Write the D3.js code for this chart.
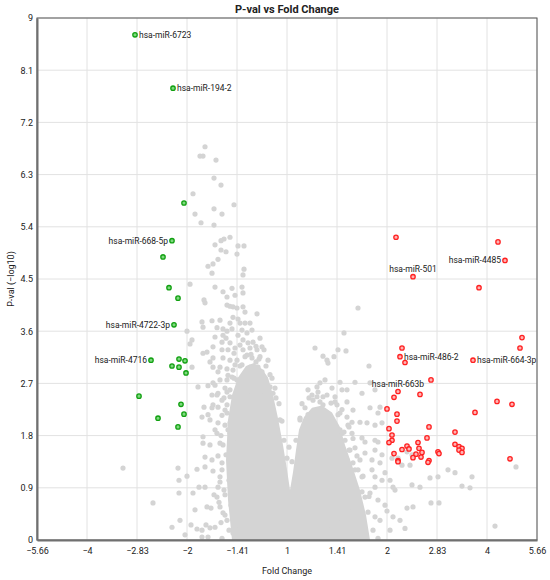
<!DOCTYPE html>
<html>
<head>
<meta charset="utf-8">
<script src="https://cdn.jsdelivr.net/npm/d3@7"></script>
<style>
  body { margin: 0; background: #fff; }
  svg text { font-family: "Liberation Sans Narrow", "Roboto", "Open Sans", sans-serif; fill: #222; }
</style>
</head>
<body>
<div id="chart"></div>
<script>
// x values are log2 fold change, y values are -log10 p
var xTickValues = [-2.5, -2, -1.5, -1, -0.5, 0, 0.5, 1, 1.5, 2, 2.5];
var xTickLabels = ["\u22125.66", "\u22124", "\u22122.83", "\u22122", "\u22121.41", "1", "1.41", "2", "2.83", "4", "5.66"];
var yTickValues = [0, 0.9, 1.8, 2.7, 3.6, 4.5, 5.4, 6.3, 7.2, 8.1, 9];
var yTickLabels = ["0", "0.9", "1.8", "2.7", "3.6", "4.5", "5.4", "6.3", "7.2", "8.1", "9"];

var greenFC = [-1.52, -1.14, -1.03, -1.15, -1.24, -1.18, -1.09, -1.13, -1.36, -1.08, -1.02, -1.15, -1.08, -1.01, -1.48, -1.06, -1.03, -1.29, -1.09];
var greenP = [8.71, 7.79, 5.81, 5.16, 4.88, 4.35, 4.17, 3.71, 3.10, 3.12, 3.09, 3.00, 2.98, 2.88, 2.48, 2.34, 2.17, 2.10, 1.95];
var greenNames = ["hsa-miR-6723", "hsa-miR-194-2", "", "hsa-miR-668-5p", "", "", "", "hsa-miR-4722-3p", "hsa-miR-4716", "", "", "", "", "", "", "", "", "", ""];

var redFC = [1.09, 2.11, 2.18, 1.26, 1.92, 2.35, 2.33, 1.15, 1.13, 1.18, 1.86, 1.44, 1.11, 1.07, 1.33, 2.10, 2.25, 1.88, 1.00, 1.10, 1.10, 1.42, 1.02, 1.68, 1.05, 1.40, 1.05, 1.02, 1.31, 1.68, 1.72, 1.75, 1.20, 1.22, 1.32, 1.15, 1.72, 1.75, 1.51, 1.52, 1.35, 1.29, 1.07, 1.26, 1.34, 1.42, 1.41, 1.11, 1.11, 2.23];
var redP = [5.22, 5.14, 4.82, 4.54, 4.35, 3.49, 3.31, 3.31, 3.16, 3.06, 3.10, 2.76, 2.56, 2.46, 2.51, 2.39, 2.34, 2.20, 2.26, 2.17, 2.05, 1.95, 1.92, 1.86, 1.81, 1.76, 1.72, 1.68, 1.68, 1.65, 1.61, 1.58, 1.62, 1.57, 1.58, 1.56, 1.55, 1.51, 1.52, 1.49, 1.51, 1.48, 1.49, 1.42, 1.43, 1.37, 1.34, 1.37, 1.35, 1.40];
var redNames = ["", "", "hsa-miR-4485", "hsa-miR-501", "", "", "", "", "hsa-miR-486-2", "", "hsa-miR-664-3p", "", "hsa-miR-663b", "", "", "", "", "", "", "", "", "", "", "", "", "", "", "", "", "", "", "", "", "", "", "", "", "", "", "", "", "", "", "", "", "", "", "", "", ""];

// dense core of the non-significant cloud (outline)
var coreFC = [-0.55, -0.59, -0.61, -0.59, -0.55, -0.49, -0.41, -0.33, -0.25, -0.19, -0.14, -0.09, -0.04, 0.00, 0.03, 0.06, 0.09, 0.12, 0.17, 0.25, 0.35, 0.45, 0.53, 0.58, 0.65, 0.73, 0.79, 0.83];
var coreP = [0, 0.69, 1.38, 2.07, 2.50, 2.80, 3.00, 3.05, 2.95, 2.80, 2.50, 2.10, 1.64, 1.21, 0.86, 1.17, 1.55, 1.90, 2.12, 2.28, 2.32, 2.20, 1.95, 1.64, 1.29, 0.86, 0.43, 0];

var grayPoints = [
  [-0.82,6.78],[-0.87,6.62],[-0.84,6.62],[-0.71,6.55],[-0.73,6.24],[-0.66,6.12],[-0.94,5.97],[-0.92,5.62],
  [-0.73,5.71],[-0.65,5.62],[-0.53,5.78],[-0.86,5.47],[-0.73,5.43],[-0.57,5.22],[-0.63,5.19],[-0.66,5.16],
  [-0.72,5.09],[-0.49,5.07],[-0.43,5.07],[-0.66,5.00],[-0.61,4.97],[-0.50,4.93],[-0.69,4.84],[-0.79,4.72],
  [-0.74,4.76],[-0.43,4.67],[-0.75,4.60],[-0.44,4.57],
  [-0.97,4.41],[-0.72,4.36],[-0.64,4.28],[-0.55,4.34],[-0.52,4.22],[-0.45,4.36],[-0.44,4.26],[-0.60,4.19],
  [-0.83,4.14],[-0.82,4.09],[-0.60,4.05],[-0.57,4.03],[-0.54,4.02],[-0.50,4.00],[-0.44,4.02],[-0.42,3.93],
  [-0.30,3.90],[-0.54,3.84],[-0.49,3.81],[-0.67,3.79],[-0.75,3.78],[-0.85,3.76],[-0.57,3.74],[-0.47,3.74],
  [-0.42,3.74],[-0.37,3.74],[-0.84,3.67],[-0.70,3.66],[-0.64,3.64],[-0.60,3.60],[-0.55,3.64],[-0.45,3.62],
  [-0.40,3.57],[-0.35,3.62],[-1.00,3.60],[-0.72,3.50],[-0.64,3.53],[-0.49,3.53],[-0.27,3.48],[-0.95,3.45],
  [-0.97,3.38],[-0.65,3.41],[-0.57,3.40],[-0.44,3.45],[-0.39,3.40],[-0.34,3.41],[-0.74,3.33],[-0.80,3.24],
  [-0.84,3.22],[-0.65,3.28],[-0.59,3.28],[-0.52,3.31],[-0.44,3.28],[-0.37,3.31],[-0.30,3.28],[-0.25,3.33],
  [-0.74,3.14],[-0.77,3.07],[-0.74,2.98],[-0.64,3.14],[-0.57,3.10],[-0.50,3.10],[-0.42,3.16],[-0.35,3.14],
  [-0.27,3.16],[-0.67,2.98],[-0.60,2.95],[-0.54,2.93],[-0.45,3.02],[-0.37,2.98],[-0.29,2.98],[-0.25,2.90],
  [-0.95,2.98],[-0.89,2.64],[-0.79,2.66],[-0.74,2.71],[-0.67,2.76],[-0.60,2.76],[-0.55,2.81],[-0.50,2.76],
  [-0.44,2.81],[-0.37,2.76],[-0.30,2.81],[-0.24,2.76],[-0.17,2.64],[-0.14,2.53],[-0.69,2.53],[-0.60,2.55],
  [-0.57,2.47],[-0.65,2.41],[-0.47,2.59],[-0.42,2.50],[-0.35,2.53],[-0.29,2.47],[-0.22,2.53],[-0.83,2.29],
  [-0.75,2.28],[-0.85,2.12],[-0.69,2.29],[-0.62,2.24],
  [-1.64,1.24],[-1.34,0.64],[-1.15,0.22],[-1.09,1.24],[-1.08,1.03],[-1.00,1.10],[-1.08,0.81],[-0.94,0.81],
  [-0.77,2.07],[-0.84,1.78],[-0.84,1.67],[-0.82,1.43],[-0.90,1.22],[-0.82,1.26],[-0.74,1.19],[-0.88,0.91],
  [-0.82,0.91],[-0.80,0.57],[-0.76,0.55],[-0.96,0.26],[-0.90,0.19],[-0.85,0.17],[-0.81,0.26],[-0.77,0.21],
  [-0.72,0.22],[-0.85,0.05],[-0.79,0.05],[-0.70,2.50],[-0.74,2.33],[-0.69,2.02],[-0.70,1.84],[-0.67,1.67],
  [-0.65,1.33],[-0.67,1.09],[-0.69,0.91],[-0.70,0.74],[-0.67,0.57],[-0.64,0.47],[-0.60,0.34],[-0.60,2.19],
  [-0.57,2.02],[-0.57,1.84],[-0.54,1.60],[-0.54,1.38],[-0.50,1.16],[-0.52,0.91],[-0.54,0.74],[-0.50,0.47],
  [-0.47,0.22],[-0.59,1.90],[-0.52,2.10],[-0.61,1.47],[-0.58,1.03],[-0.62,0.78],[-0.56,0.60],[-0.54,0.12],
  [-0.65,0.03],[-0.49,1.72],[-0.51,1.47],[-0.49,0.69],
  [-0.58,0.17],[-0.62,0.43],[-0.63,0.86],[-0.65,1.21],[-0.64,1.64],[-0.62,1.98],[-0.60,2.33],[-0.57,2.59],
  [-0.53,2.79],[-0.47,3.00],[-0.40,3.19],[-0.31,3.34],[-0.23,3.28],[-0.19,3.10],[-0.15,2.79],[-0.11,2.45],
  [-0.07,2.07],[-0.03,1.72],[0.00,1.41],
  [-0.61,3.48],[-0.53,3.22],[-0.47,3.36],[-0.31,3.07],[-0.37,2.90],[-0.41,2.67],[-0.52,3.02],[-0.59,2.84],
  [-0.69,2.90],[-0.72,2.67],[-0.62,2.62],[-0.75,2.50],[-0.79,2.16],[-0.72,1.90],[-0.77,1.64],[-0.75,1.38],
  [-0.73,0.78],[-0.92,0.52],[-1.02,0.09],[-1.07,0.34],
  [-0.36,3.20],[-0.28,3.12],[-0.21,3.00],[-0.17,2.85],[-0.12,2.62],[-0.08,2.35],[-0.05,2.05],[0.02,1.60],
  [0.05,1.35],[-0.66,0.30],[-0.68,0.65],[-0.67,1.00],[-0.69,1.45],[-0.66,1.80],[-0.65,2.15],[-0.63,2.45],
  [0.71,4.00],[0.57,3.57],[0.28,3.31],[0.36,3.17],[0.40,3.10],[0.41,3.05],[0.51,3.28],[0.59,3.26],
  [0.47,3.16],[0.82,3.00],[0.38,2.76],[0.33,2.71],[0.30,2.64],[0.21,2.59],[0.25,2.50],[0.45,2.62],
  [0.53,2.72],[0.55,2.59],[0.60,2.59],[0.75,2.53],[0.30,2.47],[0.33,2.38],[0.36,2.33],[0.48,2.47],
  [0.50,2.33],[0.66,2.24],[0.53,2.19],[0.60,2.12],[0.83,2.28],[0.13,2.10],[0.21,2.16],[0.68,2.72],
  [0.83,2.71],[0.88,2.59],[0.60,2.38],[0.93,2.29],[0.91,2.19],[0.25,2.12],[0.41,2.12],[0.65,2.03],
  [0.73,2.03],[0.80,2.02],[0.88,1.98],[0.95,2.02],[0.55,1.84],[0.65,1.84],[0.75,1.76],[0.78,1.69],
  [0.88,1.72],[0.91,1.69],[0.68,1.59],[0.78,1.50],[0.88,1.55],[0.85,1.38],[0.95,1.47],[0.93,1.33],
  [0.60,1.38],[0.66,1.33],[0.71,1.21],[0.75,1.09],[0.98,1.16],[1.03,1.03],[1.06,0.91],[1.08,0.86],
  [0.95,1.03],[0.88,0.91],[0.83,0.81],[0.78,0.74],[0.71,0.69],[0.65,0.57],[0.60,0.52],[0.65,0.43],
  [0.55,0.34],[0.51,0.29],[0.60,0.21],[0.48,0.05],[0.41,0.12],[0.45,0.22],[1.20,0.55],[1.26,0.57],
  [1.06,0.40],[0.88,1.09],[1.15,1.29],[1.23,1.29],[1.05,1.41],[1.11,1.41],[1.25,1.47],[1.20,1.52],
  [1.43,1.07],[1.51,1.09],[1.61,1.21],[1.25,0.95],[1.33,0.91],[1.44,0.64],[1.52,0.64],[1.68,1.16],
  [1.75,0.93],[1.83,0.90],[1.85,1.09],[2.08,0.24],[2.29,1.26],
  [0.58,1.72],[0.63,1.55],[0.61,1.21],[0.58,0.95],[0.53,0.69],[0.68,0.86],[0.73,1.38],[0.53,1.90],
  [0.61,1.98],
  [0.09,1.72],[0.13,2.07],[0.18,2.28],[0.26,2.41],[0.36,2.47],[0.44,2.36],[0.51,2.16],[0.57,1.86],
  [0.62,1.55],[0.68,1.21],[0.75,0.83],[0.81,0.48],[0.86,0.17],[0.91,0.03],
  [0.93,0.34],[0.98,0.60],[0.91,0.69],[1.03,0.17],[1.13,0.34],[0.85,1.21],[1.00,0.50],[1.18,0.20],
  [0.15,2.35],[0.22,2.45],[0.31,2.55],[0.40,2.50],[0.48,2.38],[0.55,2.25],[0.62,1.95],[0.66,1.75],
  [0.70,1.45],[0.76,1.10],[0.82,0.75],[0.88,0.40]
];

var svgWidth = 550;
var svgHeight = 580;
var margin = { top: 18, right: 13, bottom: 40, left: 37 };
var width = svgWidth - margin.left - margin.right;
var height = svgHeight - margin.top - margin.bottom;

var svg = d3.select("#chart")
    .append("svg")
    .attr("width", svgWidth)
    .attr("height", svgHeight);

var chartGroup = svg.append("g")
    .attr("transform", `translate(${margin.left}, ${margin.top})`);

var xScale = d3.scaleLinear().domain([-2.5, 2.5]).range([0, width]);
var yScale = d3.scaleLinear().domain([0, 9]).range([height, 0]);

// grid
chartGroup.append("g")
    .selectAll("line")
    .data(xTickValues)
    .enter()
    .append("line")
    .attr("x1", d => xScale(d))
    .attr("x2", d => xScale(d))
    .attr("y1", 0)
    .attr("y2", height)
    .attr("stroke", "#e2e2e2")
    .attr("stroke-width", 1);

chartGroup.append("g")
    .selectAll("line")
    .data(yTickValues)
    .enter()
    .append("line")
    .attr("x1", 0)
    .attr("x2", width)
    .attr("y1", d => yScale(d))
    .attr("y2", d => yScale(d))
    .attr("stroke", "#e2e2e2")
    .attr("stroke-width", 1);

// dense core of grey cloud
var coreLine = d3.line()
    .x((d, i) => xScale(coreFC[i]))
    .y((d, i) => yScale(coreP[i]));

chartGroup.append("path")
    .attr("d", coreLine(coreFC) + "Z")
    .attr("fill", "#d4d4d4");

chartGroup.append("g")
    .selectAll("circle")
    .data(grayPoints)
    .enter()
    .append("circle")
    .attr("cx", d => xScale(d[0]))
    .attr("cy", d => yScale(d[1]))
    .attr("r", 2.6)
    .attr("fill", "#d4d4d4");

// significant points
var greenData = greenFC.map((v, i) => ({ fc: v, p: greenP[i], name: greenNames[i] }));
var redData = redFC.map((v, i) => ({ fc: v, p: redP[i], name: redNames[i] }));

chartGroup.append("g")
    .selectAll("circle")
    .data(greenData)
    .enter()
    .append("circle")
    .attr("cx", d => xScale(d.fc))
    .attr("cy", d => yScale(d.p))
    .attr("r", 2.2)
    .attr("fill", "#7fd87f")
    .attr("stroke", "#10a010")
    .attr("stroke-width", 1.3);

chartGroup.append("g")
    .selectAll("circle")
    .data(redData)
    .enter()
    .append("circle")
    .attr("cx", d => xScale(d.fc))
    .attr("cy", d => yScale(d.p))
    .attr("r", 2.2)
    .attr("fill", "#ffb3b3")
    .attr("stroke", "#ff2020")
    .attr("stroke-width", 1.3);

// point labels
var placement = {
    "hsa-miR-6723": "right", "hsa-miR-194-2": "right", "hsa-miR-668-5p": "left",
    "hsa-miR-4722-3p": "left", "hsa-miR-4716": "left", "hsa-miR-4485": "left",
    "hsa-miR-501": "above", "hsa-miR-486-2": "right", "hsa-miR-664-3p": "right",
    "hsa-miR-663b": "above"
};

chartGroup.append("g")
    .selectAll("text")
    .data(greenData.concat(redData).filter(d => d.name))
    .enter()
    .append("text")
    .attr("x", d => {
        var side = placement[d.name];
        if (side == "right") return xScale(d.fc) + 4;
        if (side == "left") return xScale(d.fc) - 4;
        return xScale(d.fc);
    })
    .attr("y", d => placement[d.name] == "above" ? yScale(d.p) - 5 : yScale(d.p) + 3)
    .attr("text-anchor", d => {
        var side = placement[d.name];
        return side == "right" ? "start" : side == "left" ? "end" : "middle";
    })
    .attr("font-size", "8.5px")
    .text(d => d.name);

// frame
chartGroup.append("rect")
    .attr("width", width)
    .attr("height", height)
    .attr("fill", "none")
    .attr("stroke", "#555")
    .attr("stroke-width", 1);

// axes
var bottomAxis = d3.axisBottom(xScale)
    .tickValues(xTickValues)
    .tickFormat((d, i) => xTickLabels[i])
    .tickSize(0)
    .tickPadding(8);

var leftAxis = d3.axisLeft(yScale)
    .tickValues(yTickValues)
    .tickFormat((d, i) => yTickLabels[i])
    .tickSize(0)
    .tickPadding(4);

var xAxisG = chartGroup.append("g")
    .attr("transform", `translate(0, ${height})`)
    .call(bottomAxis);

var yAxisG = chartGroup.append("g")
    .call(leftAxis);

[xAxisG, yAxisG].forEach(g => {
    g.select(".domain").attr("stroke", "#707070").attr("stroke-width", 2);
    g.selectAll("text").attr("font-size", "9px").attr("fill", "#222");
});

// titles
svg.append("text")
    .attr("x", margin.left + width / 2)
    .attr("y", 13)
    .attr("text-anchor", "middle")
    .attr("font-size", "11px")
    .attr("font-weight", "bold")
    .text("P-val vs Fold Change");

svg.append("text")
    .attr("x", margin.left + width / 2)
    .attr("y", 574)
    .attr("text-anchor", "middle")
    .attr("font-size", "9px")
    .text("Fold Change");

svg.append("text")
    .attr("transform", "rotate(-90)")
    .attr("x", -(margin.top + height / 2))
    .attr("y", 14)
    .attr("text-anchor", "middle")
    .attr("font-size", "9px")
    .text("P-val (\u2212log10)");
</script>
</body>
</html>
